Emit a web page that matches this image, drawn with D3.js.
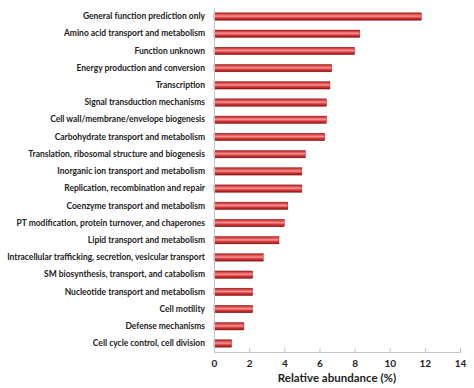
<!DOCTYPE html>
<html>
<head>
<meta charset="utf-8">
<script src="https://cdn.jsdelivr.net/npm/d3@7"></script>
<style>
  body { margin: 0; background: #fff; }
  text { font-family: Lato, "Open Sans", sans-serif; }
</style>
</head>
<body>
<div id="chart"></div>
<script>
var categories = [
  "General function prediction only",
  "Amino acid transport and metabolism",
  "Function unknown",
  "Energy production and conversion",
  "Transcription",
  "Signal transduction mechanisms",
  "Cell wall/membrane/envelope biogenesis",
  "Carbohydrate transport and metabolism",
  "Translation, ribosomal structure and biogenesis",
  "Inorganic ion transport and metabolism",
  "Replication, recombination and repair",
  "Coenzyme transport and metabolism",
  "PT modification, protein turnover, and chaperones",
  "Lipid transport and metabolism",
  "Intracellular trafficking, secretion, vesicular transport",
  "SM biosynthesis, transport, and catabolism",
  "Nucleotide transport and metabolism",
  "Cell motility",
  "Defense mechanisms",
  "Cell cycle control, cell division"
];
var values = [11.8, 8.3, 8.0, 6.7, 6.6, 6.4, 6.4, 6.3, 5.2, 5.0, 5.0, 4.2, 4.0, 3.7, 2.8, 2.2, 2.2, 2.2, 1.7, 1.0];
var xTicks = [0, 2, 4, 6, 8, 10, 12, 14];
var xTitle = "Relative abundance (%)";

var width = 474;
var height = 388;
var margin = {top: 8, right: 14, bottom: 36, left: 214};
var w = width - margin.left - margin.right;
var h = height - margin.top - margin.bottom;

var svg = d3.select("#chart")
    .append("svg")
    .attr("width", width)
    .attr("height", height);

var defs = svg.append("defs");
var grad = defs.append("linearGradient")
    .attr("id", "barGrad")
    .attr("x1", 0).attr("y1", 0)
    .attr("x2", 0).attr("y2", 1);
grad.append("stop").attr("offset", "0%").attr("stop-color", "#a82020");
grad.append("stop").attr("offset", "20%").attr("stop-color", "#e04848");
grad.append("stop").attr("offset", "45%").attr("stop-color", "#f29494");
grad.append("stop").attr("offset", "70%").attr("stop-color", "#d83636");
grad.append("stop").attr("offset", "100%").attr("stop-color", "#8c1212");

var g = svg.append("g")
    .attr("transform", "translate(" + margin.left + "," + margin.top + ")");

var x = d3.scaleLinear().domain([0, 14]).range([0, w]);
var y = d3.scaleBand().domain(categories).range([0, h]).paddingInner(0.57).paddingOuter(0.28);

// bars
g.selectAll("rect.bar")
    .data(values)
    .enter()
    .append("rect")
    .attr("class", "bar")
    .attr("x", 0)
    .attr("y", function(d, i){ return y(categories[i]); })
    .attr("width", function(d){ return x(d); })
    .attr("height", y.bandwidth())
    .style("fill", "url(#barGrad)")
    .style("stroke", "#7a1010")
    .style("stroke-width", 0.4);

// x axis
var xAxis = g.append("g")
    .attr("transform", "translate(0," + h + ")")
    .call(d3.axisBottom(x).tickValues(xTicks).tickSize(-4).tickPadding(8));
xAxis.select(".domain").attr("stroke", "#c4c4c4");
xAxis.selectAll(".tick line").attr("stroke", "#c4c4c4");
xAxis.selectAll(".tick text")
    .style("font-size", "10px")
    .style("font-weight", "bold")
    .style("fill", "#222");

// y axis
var yAxis = g.append("g")
    .call(d3.axisLeft(y).tickSize(0).tickPadding(9));
yAxis.select(".domain").attr("stroke", "#c4c4c4");
var labels = yAxis.selectAll(".tick text")
    .style("font-size", "9px")
    .style("font-weight", "bold")
    .style("fill", "#222");

// shrink labels so the longest one fits the space the reference gives it
var longest = d3.max(labels.nodes(), function(n){ return n.getComputedTextLength(); });
var fs = Math.min(9.4, 9 * 198 / longest);
labels.style("font-size", fs + "px");

svg.append("text")
    .attr("text-anchor", "middle")
    .attr("x", margin.left + w / 2)
    .attr("y", height - 6)
    .style("font-size", "11.5px")
    .style("font-weight", "bold")
    .style("fill", "#222")
    .text(xTitle);
</script>
</body>
</html>
